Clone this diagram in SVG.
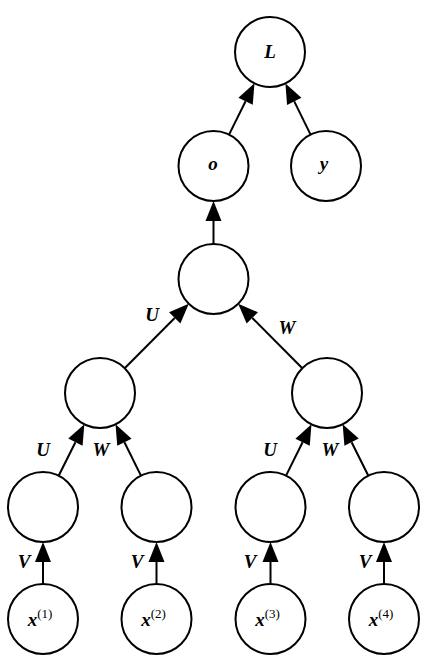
<svg xmlns="http://www.w3.org/2000/svg" width="427" height="661" viewBox="0 0 427 661">
<style>
.n{fill:#fff;stroke:#000;stroke-width:2}
.e{stroke:#000;stroke-width:2;fill:none;marker-end:url(#ah)}
.t{font-family:"Liberation Serif","DejaVu Serif",serif;font-weight:bold;font-style:italic;font-size:19px;fill:#000;text-anchor:middle}
.s{font-size:13px;font-style:normal;font-weight:normal}
</style>
<defs>
<marker id="ah" markerUnits="userSpaceOnUse" markerWidth="22" markerHeight="18" refX="0" refY="8" orient="auto" viewBox="0 0 22 18" overflow="visible">
<path d="M0,0 L20,8 L0,16 Z" fill="#000"/>
</marker>
</defs>
<rect width="427" height="661" fill="#fff"/>
<g id="connectors">
<line class="e" x1="229.04" y1="134.64" x2="245.58" y2="101.28"/>
<line class="e" x1="310.57" y1="134.58" x2="294.25" y2="101.37"/>
<line class="e" x1="213.5" y1="244" x2="213.5" y2="221"/>
<line class="e" x1="124.69" y1="368.2" x2="174.7" y2="317.97"/>
<line class="e" x1="302.31" y1="368.2" x2="252.3" y2="317.97"/>
<line class="e" x1="58.65" y1="475.7" x2="75.41" y2="442.19"/>
<line class="e" x1="140.96" y1="475.64" x2="124.42" y2="442.28"/>
<line class="e" x1="286.04" y1="475.64" x2="302.58" y2="442.28"/>
<line class="e" x1="368.35" y1="475.7" x2="351.59" y2="442.19"/>
<line class="e" x1="43" y1="584" x2="43" y2="562"/>
<line class="e" x1="156.5" y1="584" x2="156.5" y2="562"/>
<line class="e" x1="270.5" y1="584" x2="270.5" y2="562"/>
<line class="e" x1="384" y1="584" x2="384" y2="562"/>
<text class="t" x="152" y="321">U</text>
<text class="t" x="287" y="334">W</text>
<text class="t" x="43" y="456">U</text>
<text class="t" x="101" y="456">W</text>
<text class="t" x="270" y="456">U</text>
<text class="t" x="330" y="456">W</text>
<text class="t" x="24" y="568">V</text>
<text class="t" x="137" y="568">V</text>
<text class="t" x="250" y="568">V</text>
<text class="t" x="365" y="568">V</text>
</g>
<g id="node-L"><circle class="n" cx="270" cy="52" r="35"/><text class="t" x="270" y="58">L</text></g>
<g id="node-o"><circle class="n" cx="213.5" cy="166" r="35"/><text class="t" x="213" y="170">o</text></g>
<g id="node-y"><circle class="n" cx="326" cy="166" r="35"/><text class="t" x="324" y="170">y</text></g>
<g id="node-h"><circle class="n" cx="213.5" cy="279" r="35"/></g>
<g id="node-mL"><circle class="n" cx="100" cy="393" r="35"/></g>
<g id="node-mR"><circle class="n" cx="327" cy="393" r="35"/></g>
<g id="node-h1"><circle class="n" cx="43" cy="507" r="35"/></g>
<g id="node-h2"><circle class="n" cx="156.5" cy="507" r="35"/></g>
<g id="node-h3"><circle class="n" cx="270.5" cy="507" r="35"/></g>
<g id="node-h4"><circle class="n" cx="384" cy="507" r="35"/></g>
<g id="node-x1"><circle class="n" cx="43" cy="619" r="35"/><text class="t" x="40" y="626">x<tspan class="s" dy="-8">(1)</tspan></text></g>
<g id="node-x2"><circle class="n" cx="156.5" cy="619" r="35"/><text class="t" x="153.5" y="626">x<tspan class="s" dy="-8">(2)</tspan></text></g>
<g id="node-x3"><circle class="n" cx="270.5" cy="619" r="35"/><text class="t" x="267.5" y="626">x<tspan class="s" dy="-8">(3)</tspan></text></g>
<g id="node-x4"><circle class="n" cx="384" cy="619" r="35"/><text class="t" x="381" y="626">x<tspan class="s" dy="-8">(4)</tspan></text></g>
</svg>
